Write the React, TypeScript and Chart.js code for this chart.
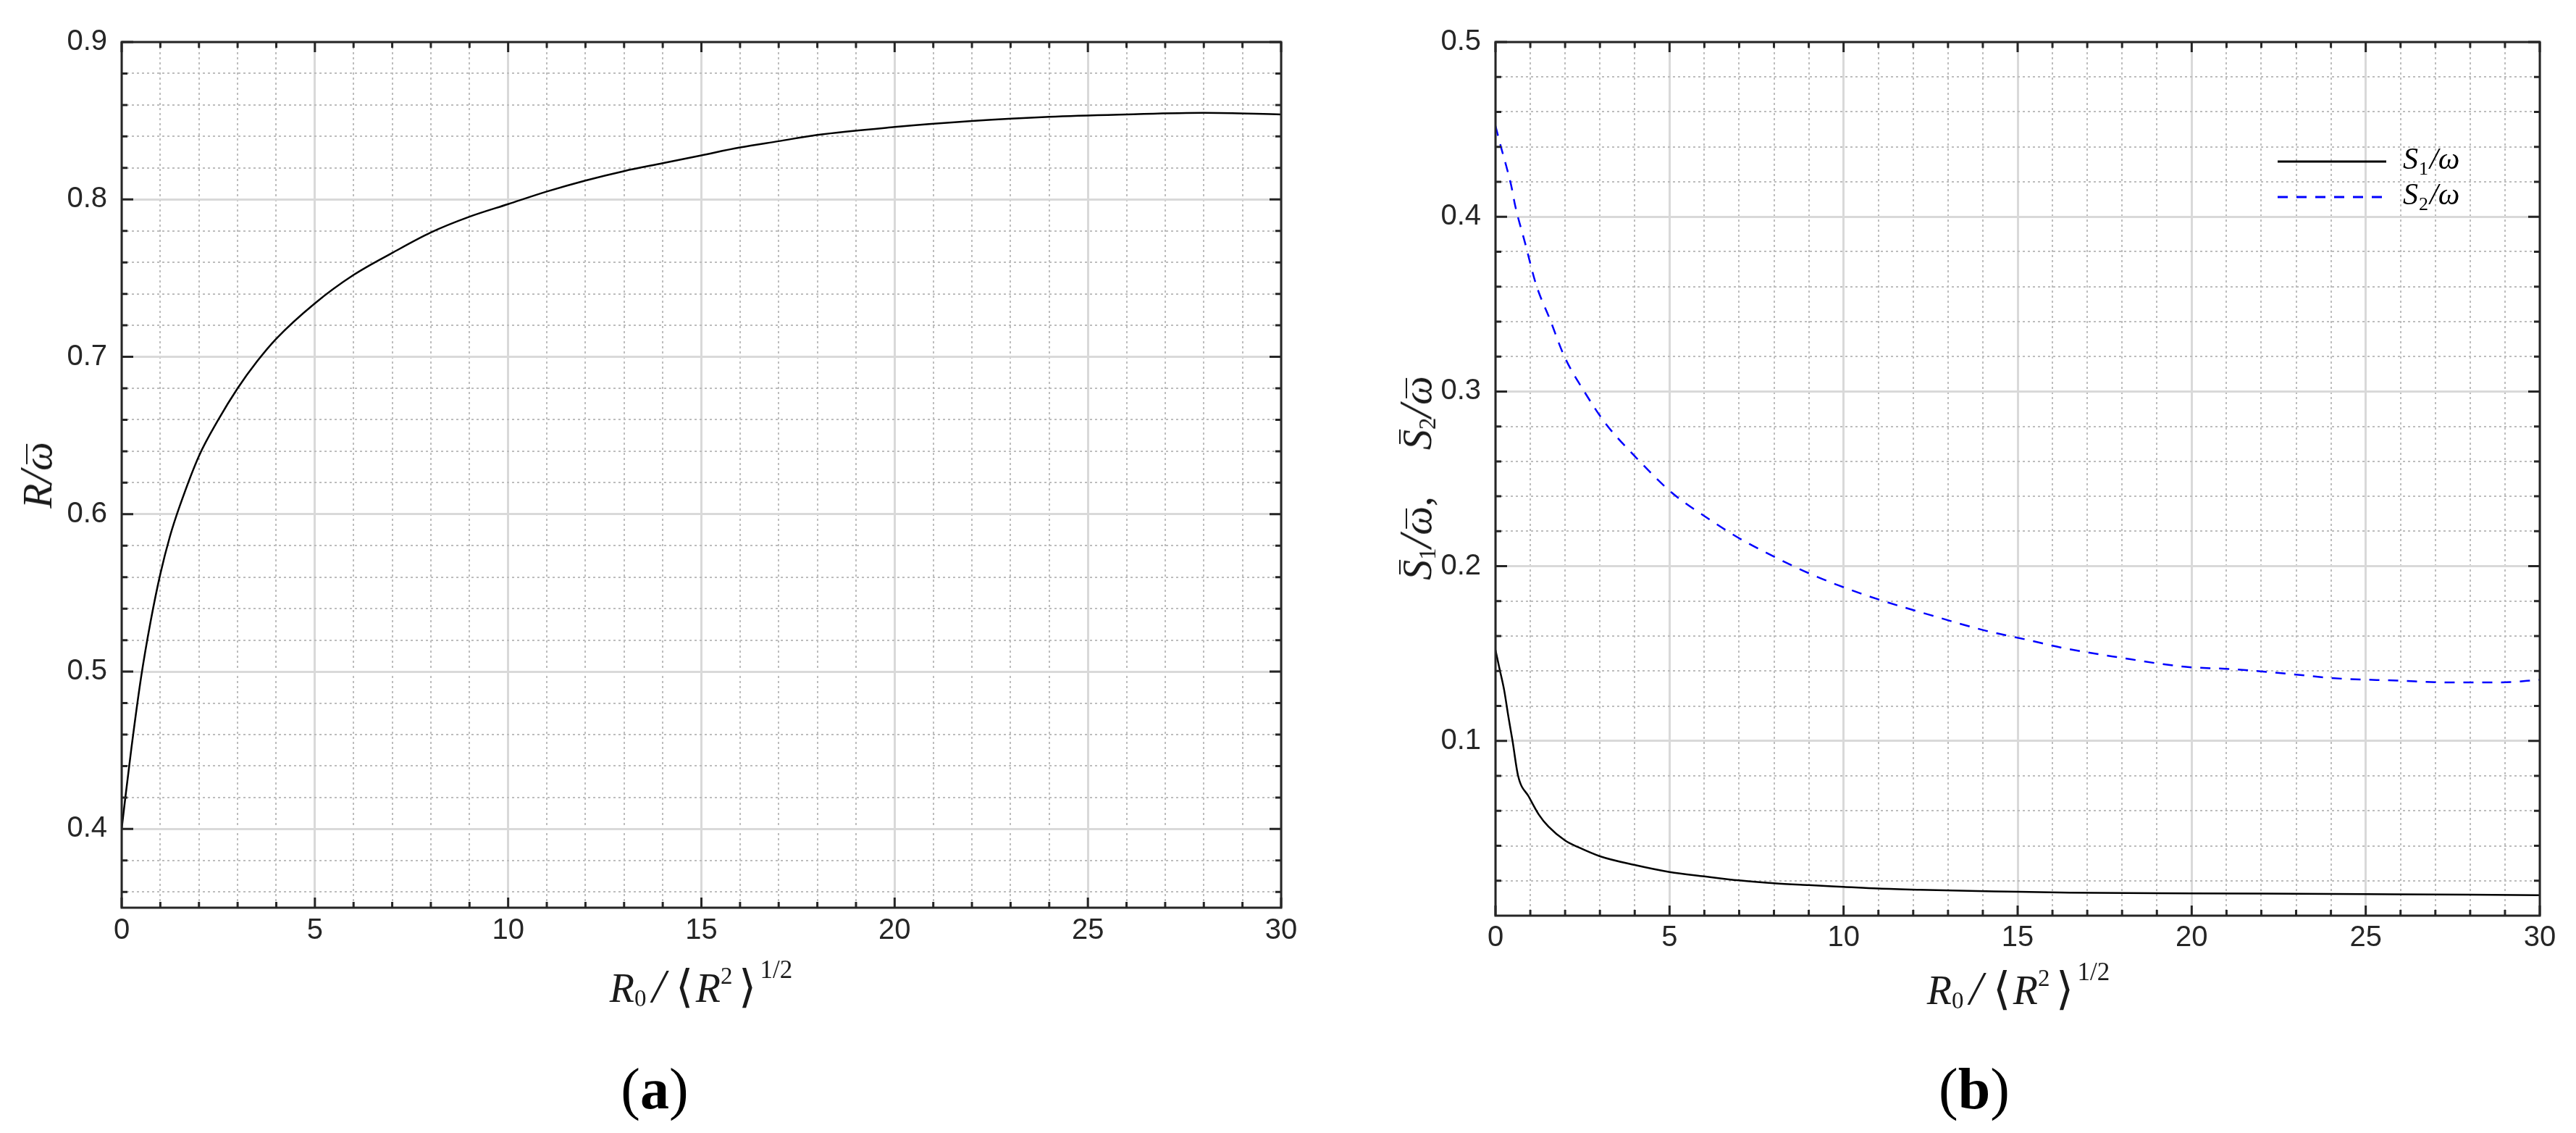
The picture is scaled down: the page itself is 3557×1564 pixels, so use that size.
import React, { useEffect, useRef } from "react";
import { Chart, registerables } from "chart.js";

Chart.register(...registerables);

// ---------------- data ----------------
const X_MAJOR = [0, 5, 10, 15, 20, 25, 30];
const X_MINOR = [1, 2, 3, 4, 6, 7, 8, 9, 11, 12, 13, 14, 16, 17, 18, 19, 21, 22, 23, 24, 26, 27, 28, 29];

const A_Y_MAJOR = [0.4, 0.5, 0.6, 0.7, 0.8, 0.9];
const A_Y_MINOR = [0.36, 0.38, 0.42, 0.44, 0.46, 0.48, 0.52, 0.54, 0.56, 0.58, 0.62, 0.64, 0.66, 0.68, 0.72, 0.74, 0.76, 0.78, 0.82, 0.84, 0.86, 0.88];

const B_Y_MAJOR = [0.1, 0.2, 0.3, 0.4, 0.5];
const B_Y_MINOR = [0.02, 0.04, 0.06, 0.08, 0.12, 0.14, 0.16, 0.18, 0.22, 0.24, 0.26, 0.28, 0.32, 0.34, 0.36, 0.38, 0.42, 0.44, 0.46, 0.48];

// panel (a): R / omega-bar
const A_X = [0, 0.1, 0.25, 0.5, 0.75, 1, 1.25, 1.5, 2, 2.5, 3, 3.5, 4, 5, 6, 7, 8, 9, 10, 11, 12, 13, 14, 15, 16, 17, 18, 20, 22, 24, 26, 28, 30];
const A_R = [0.4, 0.421, 0.451, 0.496, 0.532, 0.562, 0.586, 0.605, 0.637, 0.66, 0.68, 0.697, 0.7115, 0.734, 0.752, 0.766, 0.779, 0.789, 0.797, 0.805, 0.812, 0.818, 0.823, 0.828, 0.833, 0.837, 0.841, 0.846, 0.8498, 0.8525, 0.854, 0.855, 0.854];

// panel (b): S1 / omega-bar
const B_X1 = [0, 0.12, 0.25, 0.37, 0.49, 0.65, 0.96, 1.24, 1.52, 2, 2.4, 3, 4, 5, 6, 7, 8, 9, 10, 11, 12.2, 14.7, 16.5, 20, 23, 25, 28, 30];
const B_S1 = [0.152, 0.141, 0.129, 0.114, 0.1, 0.08, 0.068, 0.058, 0.051, 0.043, 0.039, 0.034, 0.029, 0.025, 0.0225, 0.0202, 0.0186, 0.0175, 0.0165, 0.0155, 0.0148, 0.0138, 0.0132, 0.0128, 0.0125, 0.0123, 0.012, 0.0117];

// panel (b): S2 / omega-bar
const B_X2 = [0, 0.17, 0.31, 0.45, 0.57, 0.85, 1.17, 1.57, 1.98, 2.55, 3.15, 4, 5.07, 6.13, 7, 8.05, 9, 9.86, 11, 12.5, 14.1, 15.25, 16.36, 17.85, 19.78, 21.26, 23, 24, 25.95, 27.4, 28.9, 30];
const B_S2 = [0.452, 0.439, 0.429, 0.418, 0.406, 0.385, 0.361, 0.341, 0.32, 0.3, 0.282, 0.263, 0.242, 0.227, 0.216, 0.205, 0.196, 0.189, 0.181, 0.172, 0.163, 0.158, 0.153, 0.148, 0.1425, 0.141, 0.138, 0.136, 0.1345, 0.1335, 0.1335, 0.135];

const LEGEND_LABELS = ["S₁/ω", "S₂/ω"];
const LEGEND_PARTS = [
  ["S", "1", "/ω"],
  ["S", "2", "/ω"],
];

// ---------------- styling helpers ----------------
const TICK_FONT = { family: "'Liberation Sans', Arial, sans-serif", size: 40 };
const TICK_COLOR = "#262626";
const MAJOR_GRID = "#d9d9d9";
const MINOR_GRID = "#bdbdbd";

const frameTicksPlugin = {
  id: "frameTicks",
  afterDatasetsDraw(chart: any, _args: any, opts: any) {
    const { ctx, chartArea } = chart;
    const { left, right, top, bottom } = chartArea;
    const xs = chart.scales.x;
    const ys = chart.scales.y;
    ctx.save();
    ctx.strokeStyle = opts.color;
    ctx.lineWidth = opts.tickWidth;
    ctx.setLineDash([]);
    ctx.beginPath();
    const vt = (v: number, len: number) => {
      const p = xs.getPixelForValue(v);
      ctx.moveTo(p, bottom);
      ctx.lineTo(p, bottom - len);
      ctx.moveTo(p, top);
      ctx.lineTo(p, top + len);
    };
    const ht = (v: number, len: number) => {
      const p = ys.getPixelForValue(v);
      ctx.moveTo(left, p);
      ctx.lineTo(left + len, p);
      ctx.moveTo(right, p);
      ctx.lineTo(right - len, p);
    };
    opts.xMajor.forEach((v: number) => vt(v, opts.majorLenX));
    opts.xMinor.forEach((v: number) => vt(v, opts.minorLen));
    opts.yMajor.forEach((v: number) => ht(v, opts.majorLenY));
    opts.yMinor.forEach((v: number) => ht(v, opts.minorLen));
    ctx.stroke();
    ctx.lineWidth = opts.frameWidth;
    ctx.strokeRect(left, top, right - left, bottom - top);
    ctx.restore();
  },
};

const insetLegendPlugin = {
  id: "insetLegend",
  afterDatasetsDraw(chart: any, _args: any, opts: any) {
    if (!opts || !opts.parts) return;
    const { ctx, chartArea } = chart;
    const x0 = chartArea.right - opts.fromRight;
    chart.data.datasets.forEach((ds: any, i: number) => {
      const y = chartArea.top + opts.firstY + i * opts.rowGap;
      ctx.save();
      ctx.strokeStyle = ds.borderColor;
      ctx.lineWidth = opts.sampleWidth;
      ctx.setLineDash(ds.borderDash || []);
      ctx.beginPath();
      ctx.moveTo(x0, y);
      ctx.lineTo(x0 + opts.sampleLen, y);
      ctx.stroke();
      ctx.setLineDash([]);
      const [main, sub, rest] = opts.parts[i];
      ctx.fillStyle = "#000";
      ctx.textBaseline = "alphabetic";
      ctx.textAlign = "left";
      let tx = x0 + opts.sampleLen + opts.textGap;
      const by = y + opts.baselineOffset;
      ctx.font = `italic ${opts.fontSize}px 'Liberation Serif', serif`;
      ctx.fillText(main, tx, by);
      tx += ctx.measureText(main).width + 1;
      ctx.font = `${opts.subSize}px 'Liberation Serif', serif`;
      ctx.fillText(sub, tx, by + opts.subDrop);
      tx += ctx.measureText(sub).width + 2;
      ctx.font = `italic ${opts.fontSize}px 'Liberation Serif', serif`;
      ctx.fillText(rest, tx, by);
      ctx.restore();
    });
  },
};

function axes(yMin: number, yMax: number, yMajor: number[], yMinor: number[], yWidth: number, xPad: number) {
  return {
    x: {
      type: "linear",
      position: "bottom",
      min: 0,
      max: 30,
      afterBuildTicks: (s: any) => {
        s.ticks = X_MAJOR.map((v) => ({ value: v }));
      },
      afterFit: (s: any) => {
        s.height = 60;
      },
      ticks: {
        font: TICK_FONT,
        color: TICK_COLOR,
        padding: xPad,
        maxRotation: 0,
        autoSkip: false,
        callback: (v: any) => String(v),
      },
      grid: { color: MAJOR_GRID, lineWidth: 3, drawTicks: false },
      border: { display: false },
    },
    xm: {
      type: "linear",
      position: "bottom",
      min: 0,
      max: 30,
      afterBuildTicks: (s: any) => {
        s.ticks = X_MINOR.map((v) => ({ value: v }));
      },
      afterFit: (s: any) => {
        s.height = 0;
      },
      ticks: { display: false },
      grid: { color: MINOR_GRID, lineWidth: 2, drawTicks: false },
      border: { display: false, dash: [3, 4] },
    },
    y: {
      type: "linear",
      position: "left",
      min: yMin,
      max: yMax,
      afterBuildTicks: (s: any) => {
        s.ticks = yMajor.map((v) => ({ value: v }));
      },
      afterFit: (s: any) => {
        s.width = yWidth;
      },
      ticks: {
        font: TICK_FONT,
        color: TICK_COLOR,
        padding: 20,
        autoSkip: false,
        callback: (v: any) => Number(v).toFixed(1),
      },
      grid: { color: MAJOR_GRID, lineWidth: 3, drawTicks: false },
      border: { display: false },
    },
    ym: {
      type: "linear",
      position: "left",
      min: yMin,
      max: yMax,
      afterBuildTicks: (s: any) => {
        s.ticks = yMinor.map((v) => ({ value: v }));
      },
      afterFit: (s: any) => {
        s.width = 0;
      },
      ticks: { display: false },
      grid: { color: MINOR_GRID, lineWidth: 2, drawTicks: false },
      border: { display: false, dash: [3, 4] },
    },
  };
}

function frameOpts(yMajor: number[], yMinor: number[]) {
  return {
    color: "#262626",
    tickWidth: 3,
    frameWidth: 3,
    majorLenX: 14,
    majorLenY: 16,
    minorLen: 8,
    xMajor: X_MAJOR,
    xMinor: X_MINOR,
    yMajor,
    yMinor,
  };
}

function ChartA() {
  const ref = useRef<HTMLCanvasElement | null>(null);
  useEffect(() => {
    if (!ref.current) return;
    const chart = new Chart(ref.current, {
      type: "line",
      data: {
        datasets: [
          {
            label: "R/ω̄",
            data: A_X.map((x, i) => ({ x, y: A_R[i] })),
            borderColor: "#000000",
            borderWidth: 2.5,
            pointRadius: 0,
            cubicInterpolationMode: "monotone",
          },
        ],
      },
      options: {
        responsive: false,
        animation: false,
        devicePixelRatio: 1,
        layout: { padding: { left: 0, top: 58, right: 51, bottom: 27 } },
        scales: axes(0.35, 0.9, A_Y_MAJOR, A_Y_MINOR, 168, 8) as any,
        plugins: {
          legend: { display: false },
          tooltip: { enabled: false },
          frameTicks: frameOpts(A_Y_MAJOR, A_Y_MINOR),
        } as any,
      },
      plugins: [frameTicksPlugin],
    } as any);
    return () => chart.destroy();
  }, []);
  return (
    <canvas
      ref={ref}
      width={1820}
      height={1340}
      style={{ position: "absolute", left: 0, top: 0, width: 1820, height: 1340 }}
    />
  );
}

function ChartB() {
  const ref = useRef<HTMLCanvasElement | null>(null);
  useEffect(() => {
    if (!ref.current) return;
    const chart = new Chart(ref.current, {
      type: "line",
      data: {
        datasets: [
          {
            label: LEGEND_LABELS[0],
            data: B_X1.map((x, i) => ({ x, y: B_S1[i] })),
            borderColor: "#000000",
            borderWidth: 2.5,
            pointRadius: 0,
            cubicInterpolationMode: "monotone",
          },
          {
            label: LEGEND_LABELS[1],
            data: B_X2.map((x, i) => ({ x, y: B_S2[i] })),
            borderColor: "#0000ff",
            borderWidth: 2.5,
            borderDash: [14, 12],
            pointRadius: 0,
            cubicInterpolationMode: "monotone",
          },
        ],
      },
      options: {
        responsive: false,
        animation: false,
        devicePixelRatio: 1,
        layout: { padding: { left: 0, top: 58, right: 50, bottom: 16 } },
        scales: axes(0, 0.5, B_Y_MAJOR, B_Y_MINOR, 185, 7) as any,
        plugins: {
          legend: { display: false },
          tooltip: { enabled: false },
          frameTicks: frameOpts(B_Y_MAJOR, B_Y_MINOR),
          insetLegend: {
            parts: LEGEND_PARTS,
            fromRight: 362,
            firstY: 165,
            rowGap: 49,
            sampleLen: 150,
            sampleWidth: 3,
            textGap: 23,
            fontSize: 42,
            subSize: 26,
            subDrop: 8,
            baselineOffset: 10,
          },
        } as any,
      },
      plugins: [frameTicksPlugin, insetLegendPlugin],
    } as any);
    return () => chart.destroy();
  }, []);
  return (
    <canvas
      ref={ref}
      width={1677}
      height={1340}
      style={{ position: "absolute", left: 1880, top: 0, width: 1677, height: 1340 }}
    />
  );
}

const SERIF = "'Liberation Serif', 'Times New Roman', serif";

const subStyle = (size: number, drop: number): React.CSSProperties => ({
  fontSize: size,
  fontStyle: "normal",
  position: "relative",
  top: drop,
  verticalAlign: "baseline",
  lineHeight: 1,
});

// italic letter with an overbar (drawn as a thin rule)
function Barred({ ch, top, left, right }: { ch: string; top: number; left: number; right: number }) {
  return (
    <span style={{ position: "relative", display: "inline-block", fontStyle: "italic" }}>
      {ch}
      <span
        style={{
          position: "absolute",
          left,
          right,
          top,
          borderTop: "2.5px solid #1a1a1a",
        }}
      />
    </span>
  );
}

function XTitle({ cx, baseline }: { cx: number; baseline: number }) {
  const S = 56;
  return (
    <div
      style={{
        position: "absolute",
        left: cx,
        top: baseline - 0.8375 * S,
        transform: "translateX(-50%)",
        fontFamily: SERIF,
        fontSize: S,
        lineHeight: 1,
        whiteSpace: "nowrap",
        color: "#1a1a1a",
      }}
    >
      <i>R</i>
      <span style={subStyle(33, 6)}>0</span>
      <span style={{ fontStyle: "italic", fontSize: 66, marginLeft: 8, marginRight: 14 }}>/</span>
      <span style={{ fontSize: 62, marginRight: 4 }}>⟨</span>
      <i>R</i>
      <span style={subStyle(33, -25)}>2</span>
      <span style={{ fontSize: 62, marginLeft: 8 }}>⟩</span>
      <span style={{ ...subStyle(35, -33), marginLeft: 6 }}>1/2</span>
    </div>
  );
}

function YTitle({ cx, cy, children }: { cx: number; cy: number; children: React.ReactNode }) {
  return (
    <div
      style={{
        position: "absolute",
        left: cx,
        top: cy,
        transform: "translate(-50%, -50%) rotate(-90deg)",
        fontFamily: SERIF,
        fontSize: 56,
        lineHeight: 1,
        whiteSpace: "nowrap",
        color: "#1a1a1a",
      }}
    >
      {children}
    </div>
  );
}

function Caption({ cx, baseline, letter }: { cx: number; baseline: number; letter: string }) {
  const S = 80;
  return (
    <div
      style={{
        position: "absolute",
        left: cx,
        top: baseline - 0.8375 * S,
        transform: "translateX(-50%)",
        fontFamily: SERIF,
        fontSize: S,
        lineHeight: 1,
        whiteSpace: "nowrap",
        color: "#000",
      }}
    >
      (<b>{letter}</b>)
    </div>
  );
}

const Omega = () => <Barred ch="ω" top={12} left={9} right={3} />;
const SBar = () => <Barred ch="S" top={3} left={8} right={0} />;

export default function App() {
  return (
    <div
      style={{
        position: "absolute",
        left: 0,
        top: 0,
        width: 3557,
        height: 1564,
        background: "#ffffff",
        overflow: "hidden",
      }}
    >
      <ChartA />
      <ChartB />
      <XTitle cx={968} baseline={1375} />
      <XTitle cx={2787} baseline={1378} />
      <YTitle cx={50} cy={656}>
        <i>R</i>
        <span style={{ fontStyle: "italic", fontSize: 64 }}>/</span>
        <Omega />
      </YTitle>
      <YTitle cx={1955} cy={660}>
        <SBar />
        <span style={subStyle(33, 6)}>1</span>
        <span style={{ fontStyle: "italic", fontSize: 64 }}>/</span>
        <Omega />
        <span>,</span>
        <span style={{ display: "inline-block", width: 64 }} />
        <SBar />
        <span style={subStyle(33, 6)}>2</span>
        <span style={{ fontStyle: "italic", fontSize: 64 }}>/</span>
        <Omega />
      </YTitle>
      <Caption cx={904} baseline={1530} letter="a" />
      <Caption cx={2726} baseline={1530} letter="b" />
    </div>
  );
}
